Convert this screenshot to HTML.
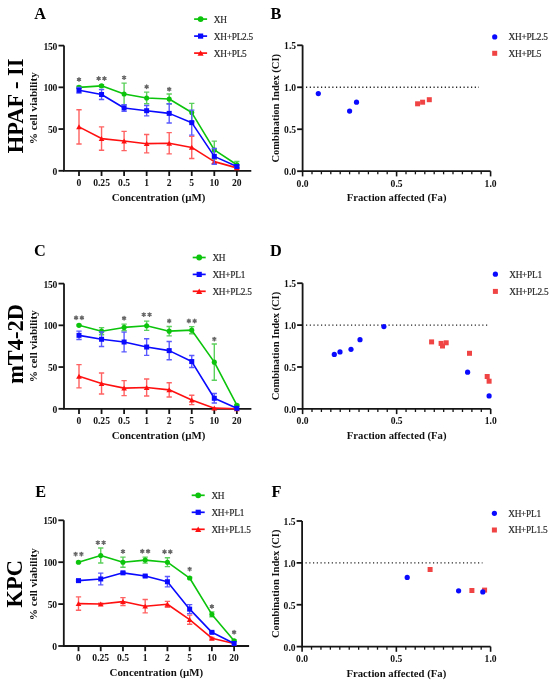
<!DOCTYPE html><html><head><meta charset="utf-8"><style>html,body{margin:0;padding:0;background:#fff;}svg{display:block;will-change:transform;}text{font-family:"Liberation Serif",serif;}</style></head><body>
<svg width="550" height="684" viewBox="0 0 550 684">
<rect width="550" height="684" fill="#fff"/>
<text x="34.3" y="18.9" font-weight="bold" font-size="16.3" fill="#000">A</text>
<text x="270.4" y="19.2" font-weight="bold" font-size="16.3" fill="#000">B</text>
<text x="34" y="256" font-weight="bold" font-size="16.3" fill="#000">C</text>
<text x="270.1" y="256.2" font-weight="bold" font-size="16.3" fill="#000">D</text>
<text x="35.2" y="496.7" font-weight="bold" font-size="16.3" fill="#000">E</text>
<text x="271.6" y="496.6" font-weight="bold" font-size="16.3" fill="#000">F</text>
<g stroke="#151515" stroke-width="1.8" fill="none">
<path d="M64 45.6L64 170.8L251.3 170.8"/>
<path d="M58.5 170.8L64 170.8"/>
<path d="M58.5 129.06L64 129.06"/>
<path d="M58.5 87.33L64 87.33"/>
<path d="M58.5 45.6L64 45.6"/>
<path d="M79 170.8L79 176"/>
<path d="M101.55 170.8L101.55 176"/>
<path d="M124.1 170.8L124.1 176"/>
<path d="M146.65 170.8L146.65 176"/>
<path d="M169.2 170.8L169.2 176"/>
<path d="M191.75 170.8L191.75 176"/>
<path d="M214.3 170.8L214.3 176"/>
<path d="M236.85 170.8L236.85 176"/>
</g>
<g font-weight="bold" font-size="9.6" fill="#111" text-anchor="end" letter-spacing="-0.25">
<text x="57.1" y="174.8">0</text>
<text x="57.1" y="133.06">50</text>
<text x="57.1" y="91.33">100</text>
<text x="57.1" y="49.6">150</text>
</g>
<g font-weight="bold" font-size="9.6" fill="#111" text-anchor="middle">
<text x="79" y="186.1">0</text>
<text x="101.55" y="186.1">0.25</text>
<text x="124.1" y="186.1">0.5</text>
<text x="146.65" y="186.1">1</text>
<text x="169.2" y="186.1">2</text>
<text x="191.75" y="186.1">5</text>
<text x="214.3" y="186.1">10</text>
<text x="236.85" y="186.1">20</text>
</g>
<text x="158.5" y="201.2" font-weight="bold" font-size="10.9" fill="#111" text-anchor="middle">Concentration (µM)</text>
<text transform="translate(37 108.3) rotate(-90)" font-weight="bold" font-size="11.2" fill="#111" text-anchor="middle">% cell viability</text>
<text transform="translate(23 105.9) rotate(-90)" font-weight="bold" font-size="22.4" fill="#000" text-anchor="middle">HPAF - II</text>
<g stroke="#ff6262" stroke-width="1.4" fill="none">
<path d="M79 109.78L79 144.01M76.35 109.78L81.65 109.78M76.35 144.01L81.65 144.01"/>
<path d="M101.55 126.89L101.55 150.27M98.9 126.89L104.2 126.89M98.9 150.27L104.2 150.27"/>
<path d="M124.1 131.4L124.1 150.6M121.45 131.4L126.75 131.4M121.45 150.6L126.75 150.6"/>
<path d="M146.65 134.49L146.65 152.85M144 134.49L149.3 134.49M144 152.85L149.3 152.85"/>
<path d="M169.2 132.65L169.2 153.86M166.55 132.65L171.85 132.65M166.55 153.86L171.85 153.86"/>
<path d="M191.75 136.33L191.75 158.53M189.1 136.33L194.4 136.33M189.1 158.53L194.4 158.53"/>
<path d="M214.3 159.11L214.3 164.12M211.65 159.11L216.95 159.11M211.65 164.12L216.95 164.12"/>
<path d="M236.85 167.04L236.85 168.71M234.2 167.04L239.5 167.04M234.2 168.71L239.5 168.71"/>
</g>
<polyline points="79,126.89 101.55,138.58 124.1,141 146.65,143.67 169.2,143.25 191.75,147.43 214.3,161.62 236.85,167.88" stroke="#ff1010" stroke-width="1.6" fill="none" stroke-linejoin="round"/>
<path d="M79 124.33L81.83 129.32L76.17 129.32Z" fill="#ff1010"/>
<path d="M101.55 136.02L104.38 141.01L98.72 141.01Z" fill="#ff1010"/>
<path d="M124.1 138.44L126.93 143.43L121.27 143.43Z" fill="#ff1010"/>
<path d="M146.65 141.11L149.49 146.1L143.81 146.1Z" fill="#ff1010"/>
<path d="M169.2 140.69L172.03 145.68L166.36 145.68Z" fill="#ff1010"/>
<path d="M191.75 144.86L194.59 149.86L188.91 149.86Z" fill="#ff1010"/>
<path d="M214.3 159.05L217.14 164.05L211.47 164.05Z" fill="#ff1010"/>
<path d="M236.85 165.31L239.69 170.31L234.01 170.31Z" fill="#ff1010"/>
<g stroke="#5cd05c" stroke-width="1.4" fill="none">
<path d="M79 86.08L79 88.58M76.35 86.08L81.65 86.08M76.35 88.58L81.65 88.58"/>
<path d="M101.55 84.58L101.55 87.08M98.9 84.58L104.2 84.58M98.9 87.08L104.2 87.08"/>
<path d="M124.1 83.16L124.1 104.86M121.45 83.16L126.75 83.16M121.45 104.86L126.75 104.86"/>
<path d="M146.65 92.09L146.65 103.77M144 92.09L149.3 92.09M144 103.77L149.3 103.77"/>
<path d="M169.2 94.01L169.2 104.02M166.55 94.01L171.85 94.01M166.55 104.02L171.85 104.02"/>
<path d="M191.75 103.36L191.75 121.72M189.1 103.36L194.4 103.36M189.1 121.72L194.4 121.72"/>
<path d="M214.3 141.17L214.3 158.7M211.65 141.17L216.95 141.17M211.65 158.7L216.95 158.7"/>
<path d="M236.85 161.45L236.85 168.13M234.2 161.45L239.5 161.45M234.2 168.13L239.5 168.13"/>
</g>
<polyline points="79,87.33 101.55,85.83 124.1,94.01 146.65,97.93 169.2,99.02 191.75,112.54 214.3,149.93 236.85,164.79" stroke="#0cc40c" stroke-width="1.6" fill="none" stroke-linejoin="round"/>
<circle cx="79" cy="87.33" r="2.55" fill="#0cc40c"/>
<circle cx="101.55" cy="85.83" r="2.55" fill="#0cc40c"/>
<circle cx="124.1" cy="94.01" r="2.55" fill="#0cc40c"/>
<circle cx="146.65" cy="97.93" r="2.55" fill="#0cc40c"/>
<circle cx="169.2" cy="99.02" r="2.55" fill="#0cc40c"/>
<circle cx="191.75" cy="112.54" r="2.55" fill="#0cc40c"/>
<circle cx="214.3" cy="149.93" r="2.55" fill="#0cc40c"/>
<circle cx="236.85" cy="164.79" r="2.55" fill="#0cc40c"/>
<g stroke="#5a5aff" stroke-width="1.4" fill="none">
<path d="M79 87.5L79 93.17M76.35 87.5L81.65 87.5M76.35 93.17L81.65 93.17"/>
<path d="M101.55 89.5L101.55 99.52M98.9 89.5L104.2 89.5M98.9 99.52L104.2 99.52"/>
<path d="M124.1 104.69L124.1 111.37M121.45 104.69L126.75 104.69M121.45 111.37L126.75 111.37"/>
<path d="M146.65 105.53L146.65 115.88M144 105.53L149.3 105.53M144 115.88L149.3 115.88"/>
<path d="M169.2 103.69L169.2 123.06M166.55 103.69L171.85 103.69M166.55 123.06L171.85 123.06"/>
<path d="M191.75 110.12L191.75 135.16M189.1 110.12L194.4 110.12M189.1 135.16L194.4 135.16"/>
<path d="M214.3 148.43L214.3 164.29M211.65 148.43L216.95 148.43M211.65 164.29L216.95 164.29"/>
<path d="M236.85 165.21L236.85 167.71M234.2 165.21L239.5 165.21M234.2 167.71L239.5 167.71"/>
</g>
<polyline points="79,90.33 101.55,94.51 124.1,108.03 146.65,110.7 169.2,113.37 191.75,122.64 214.3,156.36 236.85,166.46" stroke="#0a0aff" stroke-width="1.6" fill="none" stroke-linejoin="round"/>
<rect x="76.5" y="87.83" width="5" height="5" fill="#0a0aff"/>
<rect x="99.05" y="92.01" width="5" height="5" fill="#0a0aff"/>
<rect x="121.6" y="105.53" width="5" height="5" fill="#0a0aff"/>
<rect x="144.15" y="108.2" width="5" height="5" fill="#0a0aff"/>
<rect x="166.7" y="110.87" width="5" height="5" fill="#0a0aff"/>
<rect x="189.25" y="120.14" width="5" height="5" fill="#0a0aff"/>
<rect x="211.8" y="153.86" width="5" height="5" fill="#0a0aff"/>
<rect x="234.35" y="163.96" width="5" height="5" fill="#0a0aff"/>
<path d="M79 77.7L79 81.3M80.56 78.6L77.44 80.4M80.56 80.4L77.44 78.6" stroke="#666666" stroke-width="1.35" stroke-linecap="round"/>
<path d="M98.65 76.7L98.65 80.3M100.21 77.6L97.09 79.4M100.21 79.4L97.09 77.6" stroke="#666666" stroke-width="1.35" stroke-linecap="round"/>
<path d="M104.45 76.7L104.45 80.3M106.01 77.6L102.89 79.4M106.01 79.4L102.89 77.6" stroke="#666666" stroke-width="1.35" stroke-linecap="round"/>
<path d="M124.1 75.8L124.1 79.4M125.66 76.7L122.54 78.5M125.66 78.5L122.54 76.7" stroke="#666666" stroke-width="1.35" stroke-linecap="round"/>
<path d="M146.65 85L146.65 88.6M148.21 85.9L145.09 87.7M148.21 87.7L145.09 85.9" stroke="#666666" stroke-width="1.35" stroke-linecap="round"/>
<path d="M169.2 87.4L169.2 91M170.76 88.3L167.64 90.1M170.76 90.1L167.64 88.3" stroke="#666666" stroke-width="1.35" stroke-linecap="round"/>
<path d="M194.1 19.1L207.1 19.1" stroke="#0cc40c" stroke-width="1.7"/>
<circle cx="200.6" cy="19.1" r="2.9" fill="#0cc40c"/>
<text x="213.8" y="22.6" font-size="9.3" fill="#2a2a2a" stroke="#2a2a2a" stroke-width="0.2" letter-spacing="-0.25">XH</text>
<path d="M194.1 36.1L207.1 36.1" stroke="#0a0aff" stroke-width="1.7"/>
<rect x="198" y="33.5" width="5.2" height="5.2" fill="#0a0aff"/>
<text x="213.8" y="39.6" font-size="9.3" fill="#2a2a2a" stroke="#2a2a2a" stroke-width="0.2" letter-spacing="-0.25">XH+PL2.5</text>
<path d="M194.1 53.1L207.1 53.1" stroke="#ff1010" stroke-width="1.7"/>
<path d="M200.6 50.34L203.64 55.71L197.56 55.71Z" fill="#ff1010"/>
<text x="213.8" y="56.6" font-size="9.3" fill="#2a2a2a" stroke="#2a2a2a" stroke-width="0.2" letter-spacing="-0.25">XH+PL5</text>
<g stroke="#151515" stroke-width="1.8" fill="none">
<path d="M64 283.6L64 408.8L251.4 408.8"/>
<path d="M58.5 408.8L64 408.8"/>
<path d="M58.5 367.06L64 367.06"/>
<path d="M58.5 325.33L64 325.33"/>
<path d="M58.5 283.6L64 283.6"/>
<path d="M79 408.8L79 414"/>
<path d="M101.55 408.8L101.55 414"/>
<path d="M124.1 408.8L124.1 414"/>
<path d="M146.65 408.8L146.65 414"/>
<path d="M169.2 408.8L169.2 414"/>
<path d="M191.75 408.8L191.75 414"/>
<path d="M214.3 408.8L214.3 414"/>
<path d="M236.85 408.8L236.85 414"/>
</g>
<g font-weight="bold" font-size="9.6" fill="#111" text-anchor="end" letter-spacing="-0.25">
<text x="57.1" y="412.8">0</text>
<text x="57.1" y="371.06">50</text>
<text x="57.1" y="329.33">100</text>
<text x="57.1" y="287.6">150</text>
</g>
<g font-weight="bold" font-size="9.6" fill="#111" text-anchor="middle">
<text x="79" y="424.1">0</text>
<text x="101.55" y="424.1">0.25</text>
<text x="124.1" y="424.1">0.5</text>
<text x="146.65" y="424.1">1</text>
<text x="169.2" y="424.1">2</text>
<text x="191.75" y="424.1">5</text>
<text x="214.3" y="424.1">10</text>
<text x="236.85" y="424.1">20</text>
</g>
<text x="158.5" y="439.2" font-weight="bold" font-size="10.9" fill="#111" text-anchor="middle">Concentration (µM)</text>
<text transform="translate(37 346.3) rotate(-90)" font-weight="bold" font-size="11.2" fill="#111" text-anchor="middle">% cell viability</text>
<text transform="translate(22.5 344) rotate(-90)" font-weight="bold" font-size="22.4" fill="#000" text-anchor="middle">mT4-2D</text>
<g stroke="#ff6262" stroke-width="1.4" fill="none">
<path d="M79 364.64L79 387.85M76.35 364.64L81.65 364.64M76.35 387.85L81.65 387.85"/>
<path d="M101.55 372.99L101.55 394.03M98.9 372.99L104.2 372.99M98.9 394.03L104.2 394.03"/>
<path d="M124.1 380.59L124.1 395.61M121.45 380.59L126.75 380.59M121.45 395.61L126.75 395.61"/>
<path d="M146.65 379L146.65 396.03M144 379L149.3 379M144 396.03L149.3 396.03"/>
<path d="M169.2 382.76L169.2 396.95M166.55 382.76L171.85 382.76M166.55 396.95L171.85 396.95"/>
<path d="M191.75 395.28L191.75 404.63M189.1 395.28L194.4 395.28M189.1 404.63L194.4 404.63"/>
</g>
<polyline points="79,376.25 101.55,383.51 124.1,388.1 146.65,387.52 169.2,389.85 191.75,399.95 214.3,408.13 236.85,408.8" stroke="#ff1010" stroke-width="1.6" fill="none" stroke-linejoin="round"/>
<path d="M79 373.68L81.83 378.68L76.17 378.68Z" fill="#ff1010"/>
<path d="M101.55 380.94L104.38 385.94L98.72 385.94Z" fill="#ff1010"/>
<path d="M124.1 385.53L126.93 390.53L121.27 390.53Z" fill="#ff1010"/>
<path d="M146.65 384.95L149.49 389.95L143.81 389.95Z" fill="#ff1010"/>
<path d="M169.2 387.29L172.03 392.28L166.36 392.28Z" fill="#ff1010"/>
<path d="M191.75 397.39L194.59 402.38L188.91 402.38Z" fill="#ff1010"/>
<path d="M214.3 405.57L217.14 410.56L211.47 410.56Z" fill="#ff1010"/>
<path d="M236.85 406.24L239.69 411.23L234.01 411.23Z" fill="#ff1010"/>
<g stroke="#5cd05c" stroke-width="1.4" fill="none">
<path d="M79 324.5L79 326.16M76.35 324.5L81.65 324.5M76.35 326.16L81.65 326.16"/>
<path d="M101.55 327.67L101.55 334.68M98.9 327.67L104.2 327.67M98.9 334.68L104.2 334.68"/>
<path d="M124.1 324.08L124.1 330.76M121.45 324.08L126.75 324.08M121.45 330.76L126.75 330.76"/>
<path d="M146.65 321.16L146.65 330.34M144 321.16L149.3 321.16M144 330.34L149.3 330.34"/>
<path d="M169.2 326.5L169.2 335.85M166.55 326.5L171.85 326.5M166.55 335.85L171.85 335.85"/>
<path d="M191.75 326.58L191.75 333.76M189.1 326.58L194.4 326.58M189.1 333.76L194.4 333.76"/>
<path d="M214.3 344.03L214.3 380.25M211.65 344.03L216.95 344.03M211.65 380.25L216.95 380.25"/>
<path d="M236.85 404.38L236.85 406.05M234.2 404.38L239.5 404.38M234.2 406.05L239.5 406.05"/>
</g>
<polyline points="79,325.33 101.55,331.17 124.1,327.42 146.65,325.75 169.2,331.17 191.75,330.17 214.3,362.14 236.85,405.21" stroke="#0cc40c" stroke-width="1.6" fill="none" stroke-linejoin="round"/>
<circle cx="79" cy="325.33" r="2.55" fill="#0cc40c"/>
<circle cx="101.55" cy="331.17" r="2.55" fill="#0cc40c"/>
<circle cx="124.1" cy="327.42" r="2.55" fill="#0cc40c"/>
<circle cx="146.65" cy="325.75" r="2.55" fill="#0cc40c"/>
<circle cx="169.2" cy="331.17" r="2.55" fill="#0cc40c"/>
<circle cx="191.75" cy="330.17" r="2.55" fill="#0cc40c"/>
<circle cx="214.3" cy="362.14" r="2.55" fill="#0cc40c"/>
<circle cx="236.85" cy="405.21" r="2.55" fill="#0cc40c"/>
<g stroke="#5a5aff" stroke-width="1.4" fill="none">
<path d="M79 331.17L79 339.52M76.35 331.17L81.65 331.17M76.35 339.52L81.65 339.52"/>
<path d="M101.55 332.01L101.55 346.53M98.9 332.01L104.2 332.01M98.9 346.53L104.2 346.53"/>
<path d="M124.1 332.17L124.1 351.87M121.45 332.17L126.75 332.17M121.45 351.87L126.75 351.87"/>
<path d="M146.65 338.69L146.65 355.38M144 338.69L149.3 338.69M144 355.38L149.3 355.38"/>
<path d="M169.2 341.44L169.2 359.8M166.55 341.44L171.85 341.44M166.55 359.8L171.85 359.8"/>
<path d="M191.75 355.55L191.75 367.57M189.1 355.55L194.4 355.55M189.1 367.57L194.4 367.57"/>
<path d="M214.3 393.52L214.3 403.04M211.65 393.52L216.95 393.52M211.65 403.04L216.95 403.04"/>
</g>
<polyline points="79,335.35 101.55,339.27 124.1,342.02 146.65,347.03 169.2,350.62 191.75,361.56 214.3,398.28 236.85,408.3" stroke="#0a0aff" stroke-width="1.6" fill="none" stroke-linejoin="round"/>
<rect x="76.5" y="332.85" width="5" height="5" fill="#0a0aff"/>
<rect x="99.05" y="336.77" width="5" height="5" fill="#0a0aff"/>
<rect x="121.6" y="339.52" width="5" height="5" fill="#0a0aff"/>
<rect x="144.15" y="344.53" width="5" height="5" fill="#0a0aff"/>
<rect x="166.7" y="348.12" width="5" height="5" fill="#0a0aff"/>
<rect x="189.25" y="359.06" width="5" height="5" fill="#0a0aff"/>
<rect x="211.8" y="395.78" width="5" height="5" fill="#0a0aff"/>
<rect x="234.35" y="405.8" width="5" height="5" fill="#0a0aff"/>
<path d="M76.1 316L76.1 319.6M77.66 316.9L74.54 318.7M77.66 318.7L74.54 316.9" stroke="#666666" stroke-width="1.35" stroke-linecap="round"/>
<path d="M81.9 316L81.9 319.6M83.46 316.9L80.34 318.7M83.46 318.7L80.34 316.9" stroke="#666666" stroke-width="1.35" stroke-linecap="round"/>
<path d="M124.1 316.4L124.1 320M125.66 317.3L122.54 319.1M125.66 319.1L122.54 317.3" stroke="#666666" stroke-width="1.35" stroke-linecap="round"/>
<path d="M143.75 312.8L143.75 316.4M145.31 313.7L142.19 315.5M145.31 315.5L142.19 313.7" stroke="#666666" stroke-width="1.35" stroke-linecap="round"/>
<path d="M149.55 312.8L149.55 316.4M151.11 313.7L147.99 315.5M151.11 315.5L147.99 313.7" stroke="#666666" stroke-width="1.35" stroke-linecap="round"/>
<path d="M169.2 319.1L169.2 322.7M170.76 320L167.64 321.8M170.76 321.8L167.64 320" stroke="#666666" stroke-width="1.35" stroke-linecap="round"/>
<path d="M188.85 319.1L188.85 322.7M190.41 320L187.29 321.8M190.41 321.8L187.29 320" stroke="#666666" stroke-width="1.35" stroke-linecap="round"/>
<path d="M194.65 319.1L194.65 322.7M196.21 320L193.09 321.8M196.21 321.8L193.09 320" stroke="#666666" stroke-width="1.35" stroke-linecap="round"/>
<path d="M214.3 337.3L214.3 340.9M215.86 338.2L212.74 340M215.86 340L212.74 338.2" stroke="#666666" stroke-width="1.35" stroke-linecap="round"/>
<path d="M192.7 257.5L205.7 257.5" stroke="#0cc40c" stroke-width="1.7"/>
<circle cx="199.2" cy="257.5" r="2.9" fill="#0cc40c"/>
<text x="212.4" y="261" font-size="9.3" fill="#2a2a2a" stroke="#2a2a2a" stroke-width="0.2" letter-spacing="-0.25">XH</text>
<path d="M192.7 274.4L205.7 274.4" stroke="#0a0aff" stroke-width="1.7"/>
<rect x="196.6" y="271.8" width="5.2" height="5.2" fill="#0a0aff"/>
<text x="212.4" y="277.9" font-size="9.3" fill="#2a2a2a" stroke="#2a2a2a" stroke-width="0.2" letter-spacing="-0.25">XH+PL1</text>
<path d="M192.7 291.3L205.7 291.3" stroke="#ff1010" stroke-width="1.7"/>
<path d="M199.2 288.55L202.24 293.91L196.16 293.91Z" fill="#ff1010"/>
<text x="212.4" y="294.8" font-size="9.3" fill="#2a2a2a" stroke="#2a2a2a" stroke-width="0.2" letter-spacing="-0.25">XH+PL2.5</text>
<g stroke="#151515" stroke-width="1.8" fill="none">
<path d="M63.8 520.3L63.8 646L249.1 646"/>
<path d="M58.3 646L63.8 646"/>
<path d="M58.3 604.1L63.8 604.1"/>
<path d="M58.3 562.2L63.8 562.2"/>
<path d="M58.3 520.3L63.8 520.3"/>
<path d="M78.5 646L78.5 651.2"/>
<path d="M100.73 646L100.73 651.2"/>
<path d="M122.96 646L122.96 651.2"/>
<path d="M145.19 646L145.19 651.2"/>
<path d="M167.42 646L167.42 651.2"/>
<path d="M189.65 646L189.65 651.2"/>
<path d="M211.88 646L211.88 651.2"/>
<path d="M234.11 646L234.11 651.2"/>
</g>
<g font-weight="bold" font-size="9.6" fill="#111" text-anchor="end" letter-spacing="-0.25">
<text x="56.9" y="650">0</text>
<text x="56.9" y="608.1">50</text>
<text x="56.9" y="566.2">100</text>
<text x="56.9" y="524.3">150</text>
</g>
<g font-weight="bold" font-size="9.6" fill="#111" text-anchor="middle">
<text x="78.5" y="661.3">0</text>
<text x="100.73" y="661.3">0.25</text>
<text x="122.96" y="661.3">0.5</text>
<text x="145.19" y="661.3">1</text>
<text x="167.42" y="661.3">2</text>
<text x="189.65" y="661.3">5</text>
<text x="211.88" y="661.3">10</text>
<text x="234.11" y="661.3">20</text>
</g>
<text x="156.4" y="676.4" font-weight="bold" font-size="10.9" fill="#111" text-anchor="middle">Concentration (µM)</text>
<text transform="translate(37 584.2) rotate(-90)" font-weight="bold" font-size="11.2" fill="#111" text-anchor="middle">% cell viability</text>
<text transform="translate(21.8 583.8) rotate(-90)" font-weight="bold" font-size="22.4" fill="#000" text-anchor="middle">KPC</text>
<g stroke="#ff6262" stroke-width="1.4" fill="none">
<path d="M78.5 596.89L78.5 610.3M75.85 596.89L81.15 596.89M75.85 610.3L81.15 610.3"/>
<path d="M100.73 603.18L100.73 604.85M98.08 603.18L103.38 603.18M98.08 604.85L103.38 604.85"/>
<path d="M122.96 597.65L122.96 605.52M120.31 597.65L125.61 597.65M120.31 605.52L125.61 605.52"/>
<path d="M145.19 599.49L145.19 612.9M142.54 599.49L147.84 599.49M142.54 612.9L147.84 612.9"/>
<path d="M167.42 601.33L167.42 607.2M164.77 601.33L170.07 601.33M164.77 607.2L170.07 607.2"/>
<path d="M189.65 615.16L189.65 624.21M187 615.16L192.3 615.16M187 624.21L192.3 624.21"/>
<path d="M211.88 637.37L211.88 639.04M209.23 637.37L214.53 637.37M209.23 639.04L214.53 639.04"/>
</g>
<polyline points="78.5,603.6 100.73,604.02 122.96,601.59 145.19,606.2 167.42,604.27 189.65,619.69 211.88,638.21 234.11,643.49" stroke="#ff1010" stroke-width="1.6" fill="none" stroke-linejoin="round"/>
<path d="M78.5 601.03L81.33 606.03L75.67 606.03Z" fill="#ff1010"/>
<path d="M100.73 601.45L103.56 606.45L97.9 606.45Z" fill="#ff1010"/>
<path d="M122.96 599.02L125.8 604.02L120.13 604.02Z" fill="#ff1010"/>
<path d="M145.19 603.63L148.03 608.62L142.35 608.62Z" fill="#ff1010"/>
<path d="M167.42 601.7L170.26 606.7L164.59 606.7Z" fill="#ff1010"/>
<path d="M189.65 617.12L192.49 622.12L186.81 622.12Z" fill="#ff1010"/>
<path d="M211.88 635.64L214.72 640.64L209.04 640.64Z" fill="#ff1010"/>
<path d="M234.11 640.92L236.95 645.92L231.28 645.92Z" fill="#ff1010"/>
<g stroke="#5cd05c" stroke-width="1.4" fill="none">
<path d="M78.5 561.36L78.5 563.04M75.85 561.36L81.15 561.36M75.85 563.04L81.15 563.04"/>
<path d="M100.73 547.95L100.73 563.04M98.08 547.95L103.38 547.95M98.08 563.04L103.38 563.04"/>
<path d="M122.96 557.17L122.96 567.23M120.31 557.17L125.61 557.17M120.31 567.23L125.61 567.23"/>
<path d="M145.19 557.09L145.19 563.12M142.54 557.09L147.84 557.09M142.54 563.12L147.84 563.12"/>
<path d="M167.42 557.76L167.42 566.64M164.77 557.76L170.07 557.76M164.77 566.64L170.07 566.64"/>
<path d="M189.65 577.2L189.65 578.88M187 577.2L192.3 577.2M187 578.88L192.3 578.88"/>
<path d="M211.88 611.89L211.88 616.92M209.23 611.89L214.53 611.89M209.23 616.92L214.53 616.92"/>
<path d="M234.11 639.88L234.11 641.56M231.46 639.88L236.76 639.88M231.46 641.56L236.76 641.56"/>
</g>
<polyline points="78.5,562.2 100.73,555.5 122.96,562.2 145.19,560.11 167.42,562.2 189.65,578.04 211.88,614.41 234.11,640.72" stroke="#0cc40c" stroke-width="1.6" fill="none" stroke-linejoin="round"/>
<circle cx="78.5" cy="562.2" r="2.55" fill="#0cc40c"/>
<circle cx="100.73" cy="555.5" r="2.55" fill="#0cc40c"/>
<circle cx="122.96" cy="562.2" r="2.55" fill="#0cc40c"/>
<circle cx="145.19" cy="560.11" r="2.55" fill="#0cc40c"/>
<circle cx="167.42" cy="562.2" r="2.55" fill="#0cc40c"/>
<circle cx="189.65" cy="578.04" r="2.55" fill="#0cc40c"/>
<circle cx="211.88" cy="614.41" r="2.55" fill="#0cc40c"/>
<circle cx="234.11" cy="640.72" r="2.55" fill="#0cc40c"/>
<g stroke="#5a5aff" stroke-width="1.4" fill="none">
<path d="M78.5 579.8L78.5 581.47M75.85 579.8L81.15 579.8M75.85 581.47L81.15 581.47"/>
<path d="M100.73 573.09L100.73 584.83M98.08 573.09L103.38 573.09M98.08 584.83L103.38 584.83"/>
<path d="M122.96 572L122.96 573.68M120.31 572L125.61 572M120.31 573.68L125.61 573.68"/>
<path d="M145.19 575.19L145.19 576.87M142.54 575.19L147.84 575.19M142.54 576.87L147.84 576.87"/>
<path d="M167.42 576.53L167.42 586.92M164.77 576.53L170.07 576.53M164.77 586.92L170.07 586.92"/>
<path d="M189.65 604.6L189.65 613.65M187 604.6L192.3 604.6M187 613.65L192.3 613.65"/>
<path d="M211.88 631.5L211.88 633.18M209.23 631.5L214.53 631.5M209.23 633.18L214.53 633.18"/>
</g>
<polyline points="78.5,580.64 100.73,578.96 122.96,572.84 145.19,576.03 167.42,581.73 189.65,609.13 211.88,632.34 234.11,643.49" stroke="#0a0aff" stroke-width="1.6" fill="none" stroke-linejoin="round"/>
<rect x="76" y="578.14" width="5" height="5" fill="#0a0aff"/>
<rect x="98.23" y="576.46" width="5" height="5" fill="#0a0aff"/>
<rect x="120.46" y="570.34" width="5" height="5" fill="#0a0aff"/>
<rect x="142.69" y="573.53" width="5" height="5" fill="#0a0aff"/>
<rect x="164.92" y="579.23" width="5" height="5" fill="#0a0aff"/>
<rect x="187.15" y="606.63" width="5" height="5" fill="#0a0aff"/>
<rect x="209.38" y="629.84" width="5" height="5" fill="#0a0aff"/>
<rect x="231.61" y="640.99" width="5" height="5" fill="#0a0aff"/>
<path d="M75.6 552.3L75.6 555.9M77.16 553.2L74.04 555M77.16 555L74.04 553.2" stroke="#666666" stroke-width="1.35" stroke-linecap="round"/>
<path d="M81.4 552.3L81.4 555.9M82.96 553.2L79.84 555M82.96 555L79.84 553.2" stroke="#666666" stroke-width="1.35" stroke-linecap="round"/>
<path d="M97.83 540.8L97.83 544.4M99.39 541.7L96.27 543.5M99.39 543.5L96.27 541.7" stroke="#666666" stroke-width="1.35" stroke-linecap="round"/>
<path d="M103.63 540.8L103.63 544.4M105.19 541.7L102.07 543.5M105.19 543.5L102.07 541.7" stroke="#666666" stroke-width="1.35" stroke-linecap="round"/>
<path d="M122.96 549.6L122.96 553.2M124.52 550.5L121.4 552.3M124.52 552.3L121.4 550.5" stroke="#666666" stroke-width="1.35" stroke-linecap="round"/>
<path d="M142.29 549.5L142.29 553.1M143.85 550.4L140.73 552.2M143.85 552.2L140.73 550.4" stroke="#666666" stroke-width="1.35" stroke-linecap="round"/>
<path d="M148.09 549.5L148.09 553.1M149.65 550.4L146.53 552.2M149.65 552.2L146.53 550.4" stroke="#666666" stroke-width="1.35" stroke-linecap="round"/>
<path d="M164.52 549.9L164.52 553.5M166.08 550.8L162.96 552.6M166.08 552.6L162.96 550.8" stroke="#666666" stroke-width="1.35" stroke-linecap="round"/>
<path d="M170.32 549.9L170.32 553.5M171.88 550.8L168.76 552.6M171.88 552.6L168.76 550.8" stroke="#666666" stroke-width="1.35" stroke-linecap="round"/>
<path d="M189.65 567.3L189.65 570.9M191.21 568.2L188.09 570M191.21 570L188.09 568.2" stroke="#666666" stroke-width="1.35" stroke-linecap="round"/>
<path d="M211.88 604.7L211.88 608.3M213.44 605.6L210.32 607.4M213.44 607.4L210.32 605.6" stroke="#666666" stroke-width="1.35" stroke-linecap="round"/>
<path d="M234.11 630.4L234.11 634M235.67 631.3L232.55 633.1M235.67 633.1L232.55 631.3" stroke="#666666" stroke-width="1.35" stroke-linecap="round"/>
<path d="M191.7 495.3L204.7 495.3" stroke="#0cc40c" stroke-width="1.7"/>
<circle cx="198.2" cy="495.3" r="2.9" fill="#0cc40c"/>
<text x="211.4" y="498.8" font-size="9.3" fill="#2a2a2a" stroke="#2a2a2a" stroke-width="0.2" letter-spacing="-0.25">XH</text>
<path d="M191.7 512.3L204.7 512.3" stroke="#0a0aff" stroke-width="1.7"/>
<rect x="195.6" y="509.7" width="5.2" height="5.2" fill="#0a0aff"/>
<text x="211.4" y="515.8" font-size="9.3" fill="#2a2a2a" stroke="#2a2a2a" stroke-width="0.2" letter-spacing="-0.25">XH+PL1</text>
<path d="M191.7 529.3L204.7 529.3" stroke="#ff1010" stroke-width="1.7"/>
<path d="M198.2 526.54L201.24 531.91L195.16 531.91Z" fill="#ff1010"/>
<text x="211.4" y="532.8" font-size="9.3" fill="#2a2a2a" stroke="#2a2a2a" stroke-width="0.2" letter-spacing="-0.25">XH+PL1.5</text>
<g stroke="#151515" stroke-width="1.8" fill="none">
<path d="M302.6 45.3L302.6 171.2L490.6 171.2"/>
<path d="M297.1 171.2L302.6 171.2"/>
<path d="M297.1 129.23L302.6 129.23"/>
<path d="M297.1 87.27L302.6 87.27"/>
<path d="M297.1 45.3L302.6 45.3"/>
<path d="M302.6 171.2L302.6 176.4" stroke-width="1.6"/>
<path d="M312 171.2L312 174.3" stroke-width="1.3"/>
<path d="M321.4 171.2L321.4 174.3" stroke-width="1.3"/>
<path d="M330.8 171.2L330.8 174.3" stroke-width="1.3"/>
<path d="M340.2 171.2L340.2 174.3" stroke-width="1.3"/>
<path d="M349.6 171.2L349.6 174.3" stroke-width="1.3"/>
<path d="M359 171.2L359 174.3" stroke-width="1.3"/>
<path d="M368.4 171.2L368.4 174.3" stroke-width="1.3"/>
<path d="M377.8 171.2L377.8 174.3" stroke-width="1.3"/>
<path d="M387.2 171.2L387.2 174.3" stroke-width="1.3"/>
<path d="M396.6 171.2L396.6 176.4" stroke-width="1.6"/>
<path d="M406 171.2L406 174.3" stroke-width="1.3"/>
<path d="M415.4 171.2L415.4 174.3" stroke-width="1.3"/>
<path d="M424.8 171.2L424.8 174.3" stroke-width="1.3"/>
<path d="M434.2 171.2L434.2 174.3" stroke-width="1.3"/>
<path d="M443.6 171.2L443.6 174.3" stroke-width="1.3"/>
<path d="M453 171.2L453 174.3" stroke-width="1.3"/>
<path d="M462.4 171.2L462.4 174.3" stroke-width="1.3"/>
<path d="M471.8 171.2L471.8 174.3" stroke-width="1.3"/>
<path d="M481.2 171.2L481.2 174.3" stroke-width="1.3"/>
<path d="M490.6 171.2L490.6 176.4" stroke-width="1.6"/>
</g>
<path d="M306 87.27L479 87.27" stroke="#222" stroke-width="1.3" stroke-dasharray="1.2 2.55"/>
<g font-weight="bold" font-size="9.6" fill="#111" text-anchor="end">
<text x="296.1" y="175.2">0.0</text>
<text x="296.1" y="133.23">0.5</text>
<text x="296.1" y="91.27">1.0</text>
<text x="296.1" y="49.3">1.5</text>
</g>
<g font-weight="bold" font-size="9.6" fill="#111" text-anchor="middle">
<text x="302.6" y="186.7">0.0</text>
<text x="396.6" y="186.7">0.5</text>
<text x="490.6" y="186.7">1.0</text>
</g>
<text x="396.6" y="201.2" font-weight="bold" font-size="10.7" fill="#111" text-anchor="middle">Fraction affected (Fa)</text>
<text transform="translate(279 108.25) rotate(-90)" font-weight="bold" font-size="10.5" fill="#111" text-anchor="middle">Combination Index (CI)</text>
<rect x="415.1" y="101.3" width="5" height="5" fill="#f04444"/>
<rect x="420.1" y="99.7" width="5" height="5" fill="#f04444"/>
<rect x="426.8" y="97.2" width="5" height="5" fill="#f04444"/>
<circle cx="318.3" cy="93.6" r="2.6" fill="#0a0aff"/>
<circle cx="356.5" cy="102.2" r="2.6" fill="#0a0aff"/>
<circle cx="349.6" cy="111.1" r="2.6" fill="#0a0aff"/>
<circle cx="494.7" cy="36.9" r="2.6" fill="#0a0aff"/>
<rect x="492.2" y="50.8" width="5" height="5" fill="#f04444"/>
<text x="508.5" y="40.2" font-size="9.3" fill="#2a2a2a" stroke="#2a2a2a" stroke-width="0.2" letter-spacing="-0.25">XH+PL2.5</text>
<text x="508.5" y="56.6" font-size="9.3" fill="#2a2a2a" stroke="#2a2a2a" stroke-width="0.2" letter-spacing="-0.25">XH+PL5</text>
<g stroke="#151515" stroke-width="1.8" fill="none">
<path d="M302.6 283.2L302.6 408.9L490.7 408.9"/>
<path d="M297.1 408.9L302.6 408.9"/>
<path d="M297.1 367L302.6 367"/>
<path d="M297.1 325.1L302.6 325.1"/>
<path d="M297.1 283.2L302.6 283.2"/>
<path d="M302.6 408.9L302.6 414.1" stroke-width="1.6"/>
<path d="M312 408.9L312 412" stroke-width="1.3"/>
<path d="M321.41 408.9L321.41 412" stroke-width="1.3"/>
<path d="M330.82 408.9L330.82 412" stroke-width="1.3"/>
<path d="M340.22 408.9L340.22 412" stroke-width="1.3"/>
<path d="M349.62 408.9L349.62 412" stroke-width="1.3"/>
<path d="M359.03 408.9L359.03 412" stroke-width="1.3"/>
<path d="M368.44 408.9L368.44 412" stroke-width="1.3"/>
<path d="M377.84 408.9L377.84 412" stroke-width="1.3"/>
<path d="M387.25 408.9L387.25 412" stroke-width="1.3"/>
<path d="M396.65 408.9L396.65 414.1" stroke-width="1.6"/>
<path d="M406.06 408.9L406.06 412" stroke-width="1.3"/>
<path d="M415.46 408.9L415.46 412" stroke-width="1.3"/>
<path d="M424.87 408.9L424.87 412" stroke-width="1.3"/>
<path d="M434.27 408.9L434.27 412" stroke-width="1.3"/>
<path d="M443.68 408.9L443.68 412" stroke-width="1.3"/>
<path d="M453.08 408.9L453.08 412" stroke-width="1.3"/>
<path d="M462.49 408.9L462.49 412" stroke-width="1.3"/>
<path d="M471.89 408.9L471.89 412" stroke-width="1.3"/>
<path d="M481.3 408.9L481.3 412" stroke-width="1.3"/>
<path d="M490.7 408.9L490.7 414.1" stroke-width="1.6"/>
</g>
<path d="M306 325.1L488 325.1" stroke="#222" stroke-width="1.3" stroke-dasharray="1.2 2.55"/>
<g font-weight="bold" font-size="9.6" fill="#111" text-anchor="end">
<text x="296.1" y="412.9">0.0</text>
<text x="296.1" y="371">0.5</text>
<text x="296.1" y="329.1">1.0</text>
<text x="296.1" y="287.2">1.5</text>
</g>
<g font-weight="bold" font-size="9.6" fill="#111" text-anchor="middle">
<text x="302.6" y="424.4">0.0</text>
<text x="396.65" y="424.4">0.5</text>
<text x="490.7" y="424.4">1.0</text>
</g>
<text x="396.65" y="438.9" font-weight="bold" font-size="10.7" fill="#111" text-anchor="middle">Fraction affected (Fa)</text>
<text transform="translate(279 346.05) rotate(-90)" font-weight="bold" font-size="10.5" fill="#111" text-anchor="middle">Combination Index (CI)</text>
<rect x="429.1" y="339.4" width="5" height="5" fill="#f04444"/>
<rect x="438.6" y="340.9" width="5" height="5" fill="#f04444"/>
<rect x="440" y="343.5" width="5" height="5" fill="#f04444"/>
<rect x="443.7" y="340.3" width="5" height="5" fill="#f04444"/>
<rect x="467" y="350.8" width="5" height="5" fill="#f04444"/>
<rect x="484.7" y="374" width="5" height="5" fill="#f04444"/>
<rect x="486.6" y="378.7" width="5" height="5" fill="#f04444"/>
<circle cx="334.3" cy="354.4" r="2.6" fill="#0a0aff"/>
<circle cx="340" cy="351.9" r="2.6" fill="#0a0aff"/>
<circle cx="351" cy="349.3" r="2.6" fill="#0a0aff"/>
<circle cx="360" cy="339.7" r="2.6" fill="#0a0aff"/>
<circle cx="383.9" cy="326.6" r="2.6" fill="#0a0aff"/>
<circle cx="467.6" cy="372.2" r="2.6" fill="#0a0aff"/>
<circle cx="489.1" cy="395.9" r="2.6" fill="#0a0aff"/>
<circle cx="495.4" cy="274.2" r="2.6" fill="#0a0aff"/>
<rect x="492.9" y="288.9" width="5" height="5" fill="#f04444"/>
<text x="509.2" y="277.5" font-size="9.3" fill="#2a2a2a" stroke="#2a2a2a" stroke-width="0.2" letter-spacing="-0.25">XH+PL1</text>
<text x="509.2" y="294.7" font-size="9.3" fill="#2a2a2a" stroke="#2a2a2a" stroke-width="0.2" letter-spacing="-0.25">XH+PL2.5</text>
<g stroke="#151515" stroke-width="1.8" fill="none">
<path d="M302.1 521L302.1 646.6L490.6 646.6"/>
<path d="M296.6 646.6L302.1 646.6"/>
<path d="M296.6 604.74L302.1 604.74"/>
<path d="M296.6 562.87L302.1 562.87"/>
<path d="M296.6 521L302.1 521"/>
<path d="M302.1 646.6L302.1 651.8" stroke-width="1.6"/>
<path d="M311.53 646.6L311.53 649.7" stroke-width="1.3"/>
<path d="M320.95 646.6L320.95 649.7" stroke-width="1.3"/>
<path d="M330.38 646.6L330.38 649.7" stroke-width="1.3"/>
<path d="M339.8 646.6L339.8 649.7" stroke-width="1.3"/>
<path d="M349.23 646.6L349.23 649.7" stroke-width="1.3"/>
<path d="M358.65 646.6L358.65 649.7" stroke-width="1.3"/>
<path d="M368.08 646.6L368.08 649.7" stroke-width="1.3"/>
<path d="M377.5 646.6L377.5 649.7" stroke-width="1.3"/>
<path d="M386.93 646.6L386.93 649.7" stroke-width="1.3"/>
<path d="M396.35 646.6L396.35 651.8" stroke-width="1.6"/>
<path d="M405.78 646.6L405.78 649.7" stroke-width="1.3"/>
<path d="M415.2 646.6L415.2 649.7" stroke-width="1.3"/>
<path d="M424.62 646.6L424.62 649.7" stroke-width="1.3"/>
<path d="M434.05 646.6L434.05 649.7" stroke-width="1.3"/>
<path d="M443.48 646.6L443.48 649.7" stroke-width="1.3"/>
<path d="M452.9 646.6L452.9 649.7" stroke-width="1.3"/>
<path d="M462.33 646.6L462.33 649.7" stroke-width="1.3"/>
<path d="M471.75 646.6L471.75 649.7" stroke-width="1.3"/>
<path d="M481.18 646.6L481.18 649.7" stroke-width="1.3"/>
<path d="M490.6 646.6L490.6 651.8" stroke-width="1.6"/>
</g>
<path d="M305.5 562.87L482.5 562.87" stroke="#222" stroke-width="1.3" stroke-dasharray="1.2 2.55"/>
<g font-weight="bold" font-size="9.6" fill="#111" text-anchor="end">
<text x="295.6" y="650.6">0.0</text>
<text x="295.6" y="608.74">0.5</text>
<text x="295.6" y="566.87">1.0</text>
<text x="295.6" y="525">1.5</text>
</g>
<g font-weight="bold" font-size="9.6" fill="#111" text-anchor="middle">
<text x="302.1" y="662.1">0.0</text>
<text x="396.35" y="662.1">0.5</text>
<text x="490.6" y="662.1">1.0</text>
</g>
<text x="396.35" y="676.6" font-weight="bold" font-size="10.7" fill="#111" text-anchor="middle">Fraction affected (Fa)</text>
<text transform="translate(279 583.8) rotate(-90)" font-weight="bold" font-size="10.5" fill="#111" text-anchor="middle">Combination Index (CI)</text>
<rect x="427.6" y="567" width="5" height="5" fill="#f04444"/>
<rect x="469.4" y="588" width="5" height="5" fill="#f04444"/>
<rect x="482.1" y="587.6" width="5" height="5" fill="#f04444"/>
<circle cx="407.2" cy="577.4" r="2.6" fill="#0a0aff"/>
<circle cx="458.6" cy="590.8" r="2.6" fill="#0a0aff"/>
<circle cx="482.8" cy="591.9" r="2.6" fill="#0a0aff"/>
<circle cx="494.4" cy="513.3" r="2.6" fill="#0a0aff"/>
<rect x="491.9" y="527.5" width="5" height="5" fill="#f04444"/>
<text x="508.2" y="516.6" font-size="9.3" fill="#2a2a2a" stroke="#2a2a2a" stroke-width="0.2" letter-spacing="-0.25">XH+PL1</text>
<text x="508.2" y="533.3" font-size="9.3" fill="#2a2a2a" stroke="#2a2a2a" stroke-width="0.2" letter-spacing="-0.25">XH+PL1.5</text>
</svg></body></html>
